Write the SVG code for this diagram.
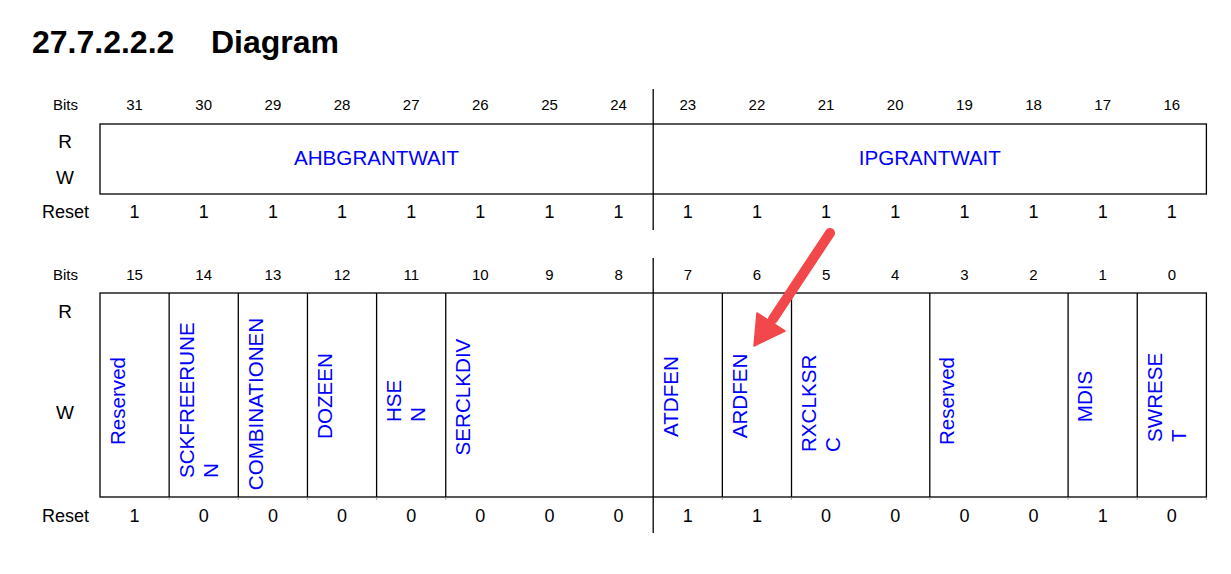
<svg xmlns="http://www.w3.org/2000/svg" width="1231" height="574" viewBox="0 0 1231 574">
<style>
.t{font-family:"Liberation Sans",Arial,sans-serif;fill:#000}
.title{font-size:32px;font-weight:bold}
.bits{font-size:15px;text-anchor:middle}
.rw{font-size:19px;text-anchor:middle}
.rv{font-size:18px;text-anchor:middle}
.f{font-family:"Liberation Sans",Arial,sans-serif;fill:#0000ff;font-size:20.6px}
.fm{text-anchor:middle}
.ln{stroke:#000;stroke-width:1.3;fill:none}
.tick{stroke:#aaa;stroke-width:1}
</style>
<rect width="1231" height="574" fill="#fff"/>
<text class="t title" x="32" y="53">27.7.2.2.2</text>
<text class="t title" x="211" y="53">Diagram</text>

<g id="reg-high">
  <text class="t bits" x="65.5" y="110">Bits</text>
  <text class="t rw" x="65" y="148">R</text>
  <text class="t rw" x="65" y="184">W</text>
  <text class="t rv" x="65.5" y="218">Reset</text>
  <g class="t bits">
    <text x="134.6" y="110">31</text><text x="203.7" y="110">30</text><text x="272.9" y="110">29</text><text x="342" y="110">28</text>
    <text x="411.2" y="110">27</text><text x="480.3" y="110">26</text><text x="549.5" y="110">25</text><text x="618.6" y="110">24</text>
    <text x="687.8" y="110">23</text><text x="756.9" y="110">22</text><text x="826.1" y="110">21</text><text x="895.2" y="110">20</text>
    <text x="964.4" y="110">19</text><text x="1033.5" y="110">18</text><text x="1102.7" y="110">17</text><text x="1171.8" y="110">16</text>
  </g>
  <g class="t rv">
    <text x="134.6" y="218">1</text><text x="203.7" y="218">1</text><text x="272.9" y="218">1</text><text x="342" y="218">1</text>
    <text x="411.2" y="218">1</text><text x="480.3" y="218">1</text><text x="549.5" y="218">1</text><text x="618.6" y="218">1</text>
    <text x="687.8" y="218">1</text><text x="756.9" y="218">1</text><text x="826.1" y="218">1</text><text x="895.2" y="218">1</text>
    <text x="964.4" y="218">1</text><text x="1033.5" y="218">1</text><text x="1102.7" y="218">1</text><text x="1171.8" y="218">1</text>
  </g>
  <rect class="ln" x="100" y="124" width="1106.4" height="70"/>
  <line class="ln" x1="653.2" y1="89" x2="653.2" y2="230"/>
  <g id="f-ahbgrantwait"><text class="f fm" x="376.6" y="165">AHBGRANTWAIT</text></g>
  <g id="f-ipgrantwait"><text class="f fm" x="929.8" y="165">IPGRANTWAIT</text></g>
</g>

<g id="reg-low">
  <text class="t bits" x="65.5" y="280">Bits</text>
  <text class="t rw" x="65" y="318">R</text>
  <text class="t rw" x="65" y="419">W</text>
  <text class="t rv" x="65.5" y="522">Reset</text>
  <g class="t bits">
    <text x="134.6" y="280">15</text><text x="203.7" y="280">14</text><text x="272.9" y="280">13</text><text x="342" y="280">12</text>
    <text x="411.2" y="280">11</text><text x="480.3" y="280">10</text><text x="549.5" y="280">9</text><text x="618.6" y="280">8</text>
    <text x="687.8" y="280">7</text><text x="756.9" y="280">6</text><text x="826.1" y="280">5</text><text x="895.2" y="280">4</text>
    <text x="964.4" y="280">3</text><text x="1033.5" y="280">2</text><text x="1102.7" y="280">1</text><text x="1171.8" y="280">0</text>
  </g>
  <g class="t rv">
    <text x="134.6" y="522">1</text><text x="203.7" y="522">0</text><text x="272.9" y="522">0</text><text x="342" y="522">0</text>
    <text x="411.2" y="522">0</text><text x="480.3" y="522">0</text><text x="549.5" y="522">0</text><text x="618.6" y="522">0</text>
    <text x="687.8" y="522">1</text><text x="756.9" y="522">1</text><text x="826.1" y="522">0</text><text x="895.2" y="522">0</text>
    <text x="964.4" y="522">0</text><text x="1033.5" y="522">0</text><text x="1102.7" y="522">1</text><text x="1171.8" y="522">0</text>
  </g>
  <rect class="ln" x="100" y="293" width="1106.4" height="204"/>
  <line class="ln" x1="653.2" y1="258" x2="653.2" y2="533"/>
  <g class="ln">
    <line x1="169.15" y1="293" x2="169.15" y2="497"/>
    <line x1="238.3" y1="293" x2="238.3" y2="497"/>
    <line x1="307.45" y1="293" x2="307.45" y2="497"/>
    <line x1="376.6" y1="293" x2="376.6" y2="497"/>
    <line x1="445.75" y1="293" x2="445.75" y2="497"/>
    <line x1="722.35" y1="293" x2="722.35" y2="497"/>
    <line x1="791.5" y1="293" x2="791.5" y2="497"/>
    <line x1="929.8" y1="293" x2="929.8" y2="497"/>
    <line x1="1068.1" y1="293" x2="1068.1" y2="497"/>
    <line x1="1137.25" y1="293" x2="1137.25" y2="497"/>
  </g>
  <g class="tick">
    <line x1="169.15" y1="497.7" x2="169.15" y2="500"/>
    <line x1="238.3" y1="497.7" x2="238.3" y2="500"/>
    <line x1="307.45" y1="497.7" x2="307.45" y2="500"/>
    <line x1="376.6" y1="497.7" x2="376.6" y2="500"/>
    <line x1="445.75" y1="497.7" x2="445.75" y2="500"/>
    <line x1="722.35" y1="497.7" x2="722.35" y2="500"/>
    <line x1="791.5" y1="497.7" x2="791.5" y2="500"/>
    <line x1="929.8" y1="497.7" x2="929.8" y2="500"/>
    <line x1="1068.1" y1="497.7" x2="1068.1" y2="500"/>
    <line x1="1137.25" y1="497.7" x2="1137.25" y2="500"/>
    <line x1="1206.4" y1="497.7" x2="1206.4" y2="500"/>
  </g>

  <g id="f-reserved15"><text class="f fm" transform="translate(124.5,401) rotate(-90)">Reserved</text></g>
  <g id="f-sckfreerunen"><text class="f" transform="translate(193.6,478) rotate(-90)"><tspan x="0" y="0">SCKFREERUNE</tspan><tspan x="0" y="24">N</tspan></text></g>
  <g id="f-combinationen"><text class="f fm" transform="translate(262.8,404) rotate(-90)">COMBINATIONEN</text></g>
  <g id="f-dozeen"><text class="f fm" transform="translate(332,396) rotate(-90)">DOZEEN</text></g>
  <g id="f-hsen"><text class="f" transform="translate(400.5,422) rotate(-90)"><tspan x="0" y="0">HSE</tspan><tspan x="0" y="24">N</tspan></text></g>
  <g id="f-serclkdiv"><text class="f fm" transform="translate(470.2,397) rotate(-90)">SERCLKDIV</text></g>
  <g id="f-atdfen"><text class="f fm" transform="translate(677.5,396.5) rotate(-90)">ATDFEN</text></g>
  <g id="f-ardfen"><text class="f fm" transform="translate(746.5,396) rotate(-90)">ARDFEN</text></g>
  <g id="f-rxclksrc"><text class="f" transform="translate(816,452) rotate(-90)"><tspan x="0" y="0">RXCLKSR</tspan><tspan x="0" y="24">C</tspan></text></g>
  <g id="f-reserved3"><text class="f fm" transform="translate(954.3,401) rotate(-90)">Reserved</text></g>
  <g id="f-mdis"><text class="f fm" transform="translate(1092.4,396.5) rotate(-90)">MDIS</text></g>
  <g id="f-swreset"><text class="f" transform="translate(1161.7,442) rotate(-90)"><tspan x="0" y="0">SWRESE</tspan><tspan x="0" y="24">T</tspan></text></g>
</g>

<g id="connectors">
  <line x1="830" y1="233" x2="773" y2="319" stroke="#f2474b" stroke-width="10" stroke-linecap="round"/>
  <polygon points="754,346 757,313 785,331" fill="#f2474b" stroke="#f2474b" stroke-width="1.5" stroke-linejoin="round"/>
</g>
</svg>
